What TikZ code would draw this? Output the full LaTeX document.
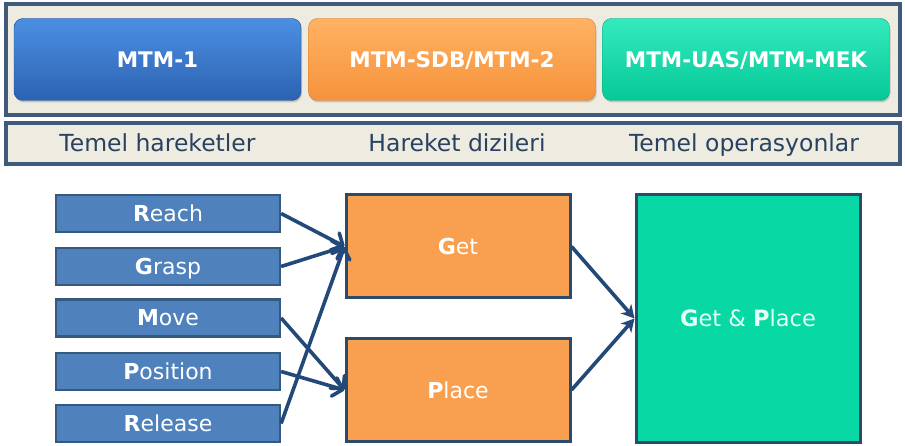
\documentclass[tikz,border=0pt]{standalone}
\usepackage{fontspec}
\setmainfont{DejaVu Sans}
\usetikzlibrary{arrows.meta,shadows}
\definecolor{framebg}{HTML}{EEECE1}
\definecolor{frameline}{HTML}{3F5A7A}
\definecolor{labeltext}{HTML}{2A4262}
\definecolor{bluetop}{HTML}{4C8FE2}
\definecolor{bluebot}{HTML}{2C62B2}
\definecolor{orangetop}{HTML}{FFB262}
\definecolor{orangebot}{HTML}{F6923C}
\definecolor{greentop}{HTML}{34EABD}
\definecolor{greenbot}{HTML}{05C998}
\definecolor{stepblue}{HTML}{4F81BD}
\definecolor{stepline}{HTML}{36597F}
\definecolor{groupor}{HTML}{F8A04F}
\definecolor{groupline}{HTML}{2B4A6C}
\definecolor{opgreen}{HTML}{08D8A4}
\definecolor{arrowblue}{HTML}{224979}
\definecolor{gptext}{HTML}{E6FFF7}
\tikzset{
  framebox/.style={draw=frameline, fill=framebg, line width=3.2pt},
  methodbox/.style={rounded corners=9pt, minimum width=287pt, minimum height=82pt, inner sep=0pt,
    text=white, font=\fontsize{21.5}{25}\selectfont\bfseries, text height=15.7pt, text depth=0pt,
    drop shadow={opacity=0.35, shadow xshift=1pt, shadow yshift=-2pt}},
  levellabel/.style={text=labeltext, font=\fontsize{23.5}{27}\selectfont, inner sep=0pt, anchor=base},
  stepbox/.style={draw=stepline, fill=stepblue, line width=2.2pt, minimum width=224pt, minimum height=37pt,
    inner sep=0pt, text=white, font=\fontsize{22}{26}\selectfont, text height=16pt, text depth=0pt},
  groupbox/.style={draw=groupline, fill=groupor, line width=3pt, minimum width=224pt, minimum height=103pt,
    inner sep=0pt, text=white, font=\fontsize{22}{26}\selectfont, text height=16pt, text depth=0pt},
  opbox/.style={draw=groupline, fill=opgreen, line width=3pt, minimum width=224pt, minimum height=247pt,
    inner sep=0pt, text=gptext, font=\fontsize{22.5}{26}\selectfont, text height=16.4pt, text depth=0pt},
  arr/.style={draw=arrowblue, line width=3.6pt, -{Straight Barb[length=9pt,width=19pt,round]}},
  arrs/.style={draw=arrowblue, line width=3.6pt, -{Stealth[length=13pt,width=14pt,inset=4pt]}}
}
\begin{document}
\begin{tikzpicture}[x=1pt,y=-1pt]
\useasboundingbox (0,0) rectangle (905,446);
\fill[white] (0,0) rectangle (905,446);
% frames
\draw[framebox] (6,4) rectangle (900,115);
\draw[framebox] (6,123) rectangle (900,164);
% method boxes
\node[methodbox, top color=bluetop, bottom color=bluebot, draw=bluebot!80!black] (m1) at (157.5,59.5) {MTM-1};
\node[methodbox, top color=orangetop, bottom color=orangebot, draw=orangebot!85!black] (m2) at (452,59.5) {MTM-SDB/MTM-2};
\node[methodbox, top color=greentop, bottom color=greenbot, draw=greenbot!85!black] (m3) at (746,59.5) {MTM-UAS/MTM-MEK};
% labels
\node[levellabel] (l1) at (157.5,152) {Temel hareketler};
\node[levellabel] (l2) at (457,152) {Hareket dizileri};
\node[levellabel] (l3) at (744,152) {Temel operasyonlar};
% steps
\node[stepbox] (reach) at (168,213.5) {\textbf{R}each};
\node[stepbox] (grasp) at (168,266.5) {\textbf{G}rasp};
\node[stepbox] (move) at (168,318) {\textbf{M}ove};
\node[stepbox] (position) at (168,371.5) {\textbf{P}osition};
\node[stepbox] (release) at (168,423.5) {\textbf{R}elease};
% groups
\node[groupbox] (get) at (458,246.5) {\textbf{G}et};
\node[groupbox] (place) at (458,390) {\textbf{P}lace};
\node[opbox] (gp) at (748,318.5) {\textbf{G}et \& \textbf{P}lace};
% connectors
\draw[arr] (reach.east) -- (get.west);
\draw[arr] (grasp.east) -- (get.west);
\draw[arr] (release.east) -- (get.west);
\draw[arr] (move.east) -- (place.west);
\draw[arr] (position.east) -- (place.west);
\draw[arrs] (get.east) -- (gp.west);
\draw[arrs] (place.east) -- (gp.west);
\end{tikzpicture}
\end{document}
